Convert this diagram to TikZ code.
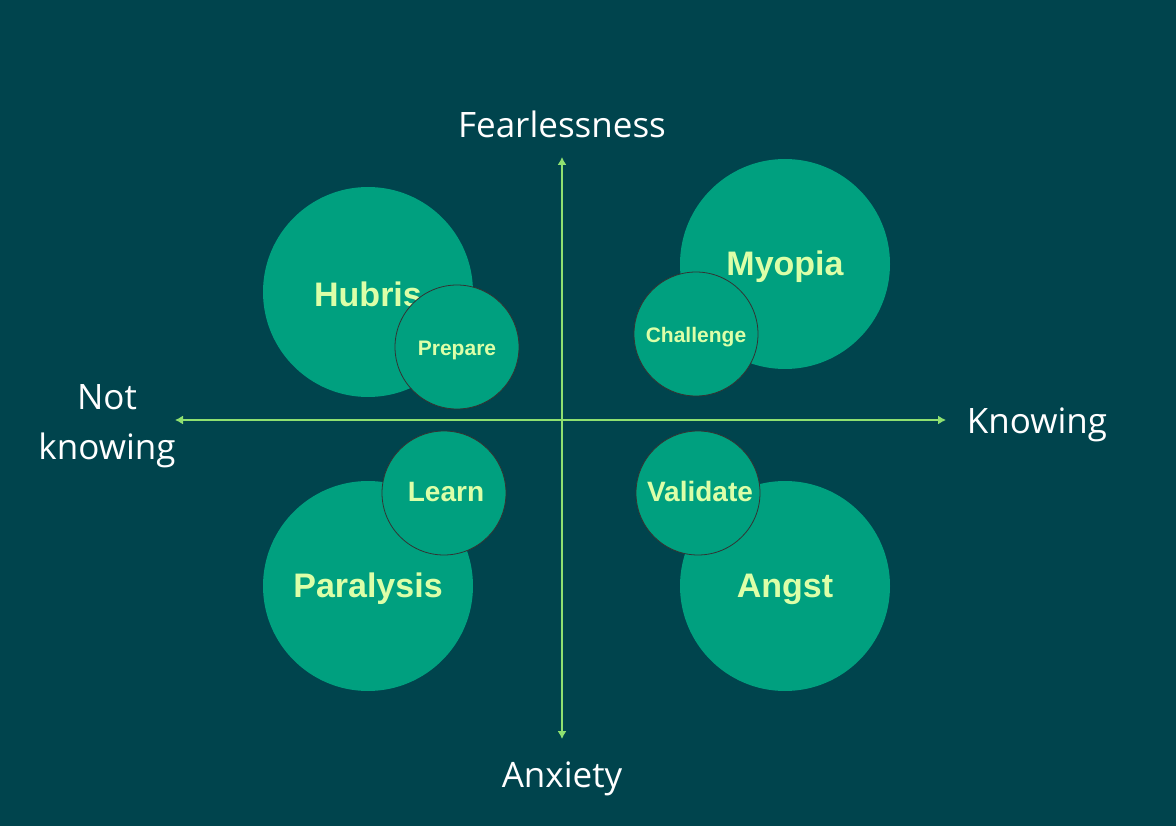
\documentclass[tikz,border=0pt]{standalone}
\usepackage{fontspec}
\setmainfont{Open Sans}
\newfontfamily\labelfont{Liberation Sans}
\usetikzlibrary{arrows.meta}
\definecolor{bgcol}{HTML}{00444D}
\definecolor{circcol}{HTML}{00A07F}
\definecolor{axiscol}{HTML}{8FE070}
\definecolor{txtcol}{HTML}{DCFFA8}
\tikzset{
  bigc/.style={circle, fill=circcol, minimum size=210pt, inner sep=0pt, font=\labelfont\bfseries\fontsize{34}{40}\selectfont, text=txtcol},
  smallc/.style={circle, fill=circcol, draw=black!80, line width=0.8pt, minimum size=124pt, inner sep=0pt, text=txtcol},
  axis/.style={draw=axiscol, line width=1.3pt, {Latex[length=8pt,width=9pt]}-{Latex[length=8pt,width=9pt]}},
  axlabel/.style={text=white, font=\fontsize{35}{50}\selectfont, align=center, inner sep=0pt}
}
\begin{document}
\begin{tikzpicture}[x=1pt,y=-1pt]
\fill[bgcol] (0,0) rectangle (1176,826);
\useasboundingbox (0,0) rectangle (1176,826);
\coordinate (vt) at (562,157);
\coordinate (vb) at (562,739);
\coordinate (hl) at (175,420);
\coordinate (hr) at (946,420);
\draw[axis] (vb) -- (vt);
\draw[axis] (hl) -- (hr);
\node[bigc] (hubris) at (368,292) {};
\node[bigc] (myopia) at (785,264) {};
\node[bigc] (paralysis) at (368,586) {};
\node[bigc] (angst) at (785,586) {};
\node[text=txtcol, font=\labelfont\bfseries\fontsize{34}{40}\selectfont] (hubrist) at (368,294) {Hubris};
\node[text=txtcol, font=\labelfont\bfseries\fontsize{34}{40}\selectfont] (myopiat) at (785,267) {Myopia};
\node[text=txtcol, font=\labelfont\bfseries\fontsize{34}{40}\selectfont] (paralysist) at (368,589) {Paralysis};
\node[text=txtcol, font=\labelfont\bfseries\fontsize{34}{40}\selectfont] (angstt) at (785,589) {Angst};
\node[smallc] (prepare) at (457,347) {};
\node[smallc] (challenge) at (696,334) {};
\node[smallc] (learn) at (444,493) {};
\node[smallc] (validate) at (698,493) {};
\node[text=txtcol, font=\labelfont\bfseries\fontsize{21}{25}\selectfont] (preparet) at (457,350) {Prepare};
\node[text=txtcol, font=\labelfont\bfseries\fontsize{21}{25}\selectfont] (challenget) at (696,337) {Challenge};
\node[text=txtcol, font=\labelfont\bfseries\fontsize{28}{32}\selectfont] (learnt) at (446,492) {Learn};
\node[text=txtcol, font=\labelfont\bfseries\fontsize{28}{32}\selectfont] (validatet) at (700,491) {Validate};
\node[axlabel] (fear) at (562,124) {Fearlessness};
\node[axlabel] (anx) at (562,779) {Anxiety};
\node[axlabel] (know) at (1037,425) {Knowing};
\node[axlabel] (notknow) at (107,426) {Not\\knowing};
\end{tikzpicture}
\end{document}
